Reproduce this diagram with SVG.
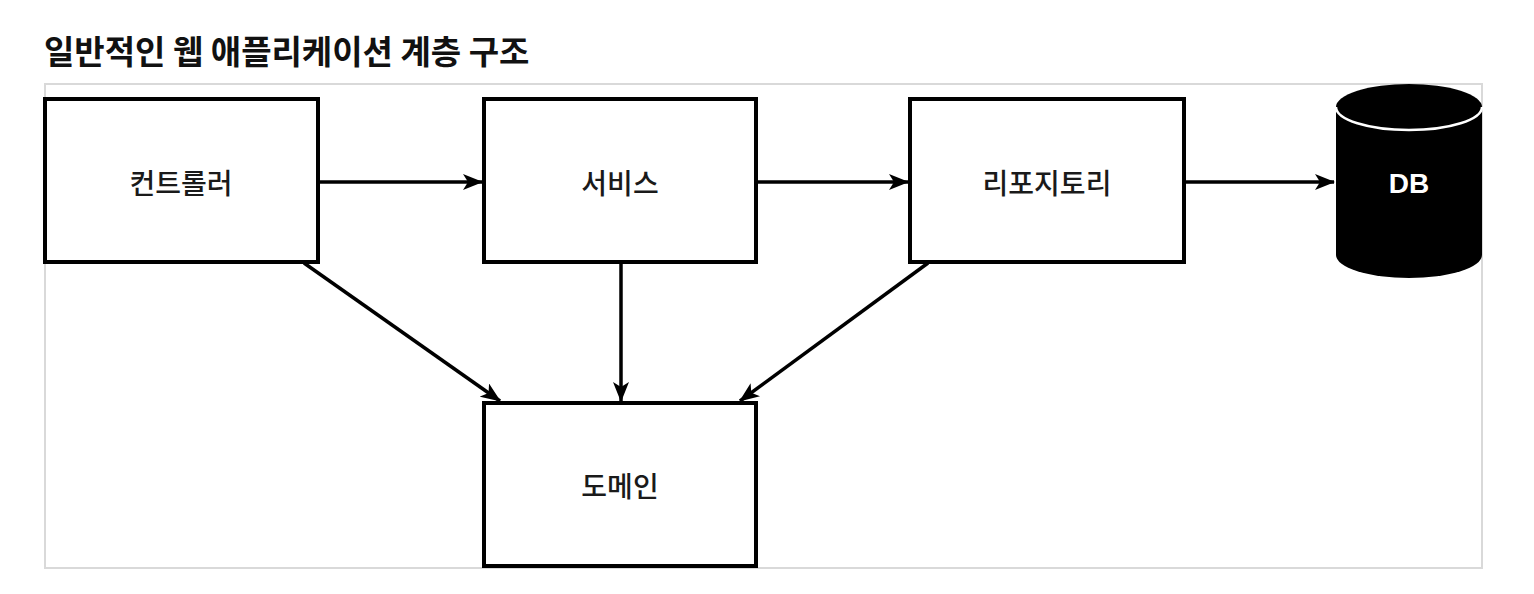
<svg xmlns="http://www.w3.org/2000/svg" width="1534" height="594" viewBox="0 0 1534 594">
<style>
.box{fill:#fff;stroke:#000;stroke-width:4}
.lbl{font-family:"Noto Sans CJK KR","Noto Sans",sans-serif;font-size:28px;font-weight:500;fill:#1a1a1a;text-anchor:middle;dominant-baseline:central}
.edge{fill:none;stroke:#000;stroke-width:3.5}
</style>
<defs>
<marker id="arr" viewBox="0 0 20 16" refX="19" refY="8" markerWidth="20" markerHeight="16" markerUnits="userSpaceOnUse" orient="auto">
<path d="M0,0 L20,8 L0,16 L5,8 Z" fill="#000"/>
</marker>
</defs>
<rect width="1534" height="594" fill="#fff"/>
<text x="44" y="64" font-family="'Noto Sans CJK KR','Noto Sans',sans-serif" font-size="33" font-weight="700" fill="#111">일반적인 웹 애플리케이션 계층 구조</text>
<rect id="frame" x="45" y="84" width="1437" height="484" fill="none" stroke="#d9d9d9" stroke-width="2"/>
<g id="connectors">
<line class="edge" x1="318" y1="182" x2="482" y2="182" marker-end="url(#arr)"/>
<line class="edge" x1="756" y1="182" x2="908" y2="182" marker-end="url(#arr)"/>
<line class="edge" x1="1184" y1="182" x2="1334" y2="182" marker-end="url(#arr)"/>
<line class="edge" x1="304" y1="263" x2="500" y2="401" marker-end="url(#arr)"/>
<line class="edge" x1="621" y1="263" x2="621" y2="401" marker-end="url(#arr)"/>
<line class="edge" x1="928" y1="263" x2="740" y2="401" marker-end="url(#arr)"/>
</g>
<g id="controller">
<rect class="box" x="45" y="99" width="273" height="163"/>
<text class="lbl" x="181" y="182">컨트롤러</text>
</g>
<g id="service">
<rect class="box" x="484" y="99" width="272" height="163"/>
<text class="lbl" x="620" y="182">서비스</text>
</g>
<g id="repository">
<rect class="box" x="910" y="99" width="274" height="163"/>
<text class="lbl" x="1047" y="182">리포지토리</text>
</g>
<g id="domain">
<rect class="box" x="484" y="403" width="272" height="163"/>
<text class="lbl" x="620" y="485">도메인</text>
</g>
<g id="db">
<path d="M1336,107 A73,23 0 0 1 1482,107 L1482,255 A73,23 0 0 1 1336,255 Z" fill="#000"/>
<path d="M1336,107 A73,23 0 0 0 1482,107" fill="none" stroke="#fff" stroke-width="2.5"/>
<text x="1409" y="183" font-family="'Liberation Sans',Arial,sans-serif" font-size="28" font-weight="700" fill="#fff" text-anchor="middle" dominant-baseline="central">DB</text>
</g>
</svg>
